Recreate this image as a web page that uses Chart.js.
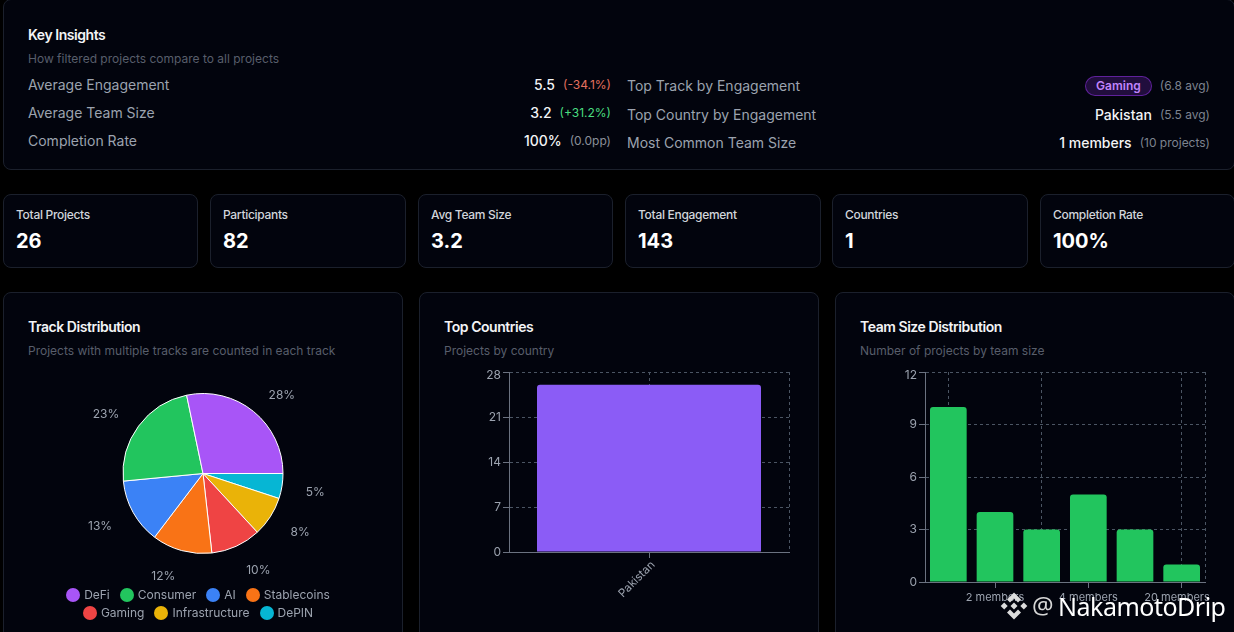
<!DOCTYPE html>
<html><head><meta charset="utf-8">
<script src="https://cdn.jsdelivr.net/npm/chart.js@4"></script>
<style>
html,body{margin:0;padding:0;background:#000;width:1234px;height:632px;overflow:hidden;font-family:Inter,sans-serif;}
.card{position:absolute;box-sizing:border-box;background:#02040d;border:1px solid #1b202c;border-radius:8px;}
.t{position:absolute;white-space:nowrap;line-height:20px;height:20px;}
canvas{position:absolute;display:block;}
.title{font-size:14px;font-weight:600;color:#f3f4f6;letter-spacing:-.45px;}
.sub{font-size:12px;color:#585e6b;}
.row{font-size:14px;color:#9ca3af;}
.val{display:flex;align-items:center;justify-content:flex-end;gap:8px;}
.val b{font-weight:500;font-size:14px;color:#f3f4f6;}
.val i{font-style:normal;font-size:12px;color:#7d838f;}
.pill{font-size:12px;font-weight:600;color:#c084fc;background:rgba(147,51,234,.22);border:1px solid rgba(147,51,234,.55);border-radius:10px;box-sizing:border-box;height:20px;line-height:18px;padding:0 10px;}
.sl{font-size:12px;font-weight:500;color:#d1d5db;letter-spacing:-.3px;}
.sv{font-size:20px;font-weight:700;color:#fff;line-height:24px;height:24px;}
#legend{position:absolute;left:-2px;width:400px;top:586px;font-size:12px;color:#9ca3af;text-align:center;line-height:18px;}
#legend span.it{display:inline-block;margin:0 5px;}
#legend span.dot{display:inline-block;width:14px;height:14px;border-radius:50%;margin-right:4px;vertical-align:-3px;}
#wm{position:absolute;left:1058px;top:588px;font-family:"Noto Sans",sans-serif;font-size:25px;letter-spacing:-.5px;color:#fff;line-height:36px;white-space:nowrap;z-index:5;}
#wmat{position:absolute;left:1032px;top:590px;font-family:"Noto Sans",sans-serif;font-size:24px;color:#d6d6d6;line-height:30px;z-index:5;}
#wmi{position:absolute;left:1000px;top:592px;z-index:5;}
</style></head><body>
<div id="root"></div>
<canvas id="pie" width="400" height="227" style="left:3px;top:360px"></canvas>
<canvas id="countries" width="398" height="272" style="left:420px;top:360px"></canvas>
<canvas id="team" width="398" height="272" style="left:836px;top:360px"></canvas>
<div id="legend"></div>
<svg id="wmi" width="28" height="28" viewBox="0 0 28 28" fill="#dcdcdc"><path d="M14 0.5l7 7-3 3L14 6.5l-4 4-3-3z"/><path d="M14 27.5l-7-7 3-3 4 4 4-4 3 3z"/><path d="M4.2 10.5l3.5 3.5-3.5 3.5L0.7 14z"/><path d="M23.8 10.5l3.5 3.5-3.5 3.5-3.5-3.5z"/><path d="M14 10.5l3.5 3.5-3.5 3.5-3.5-3.5z"/></svg>
<div id="wmat">@</div>
<div id="wm">NakamotoDrip</div>
<script>
const trackLabels = ['DeFi','Consumer','AI','Stablecoins','Gaming','Infrastructure','DePIN'];
const trackShares = [28,23,13,12,10,8,5];
const trackColors = ['#a855f7','#22c55e','#3b82f6','#f97316','#ef4444','#eab308','#06b6d4'];
const countryLabels = ['Pakistan'];
const countryProjects = [26];
const countryTicks = [0,7,14,21,28];
const teamLabels = ['1 members','2 members','3 members','4 members','5 members','20 members'];
const teamProjects = [10,4,3,5,3,1];
const teamTicks = [0,3,6,9,12];
const teamShownLabels = ['2 members','4 members','20 members'];
const teamGridLabels = ['1 members','3 members','20 members'];
const insightsLeft = [['Average Engagement','5.5','(-34.1%)','#e5705f'],['Average Team Size','3.2','(+31.2%)','#4ade80'],['Completion Rate','100%','(0.0pp)','#8b909a']];
const insightsRight = [['Top Track by Engagement','Gaming','(6.8 avg)'],['Top Country by Engagement','Pakistan','(5.5 avg)'],['Most Common Team Size','1 members','(10 projects)']];
const stats = [['Total Projects','26'],['Participants','82'],['Avg Team Size','3.2'],['Total Engagement','143'],['Countries','1'],['Completion Rate','100%']];

const root = document.getElementById('root');
function el(cls, css, html){const d=document.createElement('div');d.className=cls;d.style.cssText=css;if(html!==undefined)d.innerHTML=html;root.appendChild(d);return d;}
el('card','left:3px;top:-1px;width:1232px;height:171px');
el('t title','left:28px;top:25px','Key Insights');
el('t sub','left:28px;top:49px','How filtered projects compare to all projects');
const ly=[75,103,131], ry=[76,105,133];
insightsLeft.forEach((r,i)=>{
  el('t row',`left:28px;top:${ly[i]}px`,r[0]);
  el('t val',`right:623px;top:${ly[i]}px`,`<b>${r[1]}</b><i style="color:${r[3]}">${r[2]}</i>`);
});
insightsRight.forEach((r,i)=>{
  el('t row',`left:627px;top:${ry[i]}px`,r[0]);
  const v = i===0?`<span class="pill">${r[1]}</span>`:`<b>${r[1]}</b>`;
  el('t val',`right:24px;top:${ry[i]}px`,`${v}<i>${r[2]}</i>`);
});
const sx=[3,210,418,625,832,1040], sw=[195,196,195,196,196,195];
stats.forEach((s,i)=>{
  el('card',`left:${sx[i]}px;top:194px;width:${sw[i]}px;height:74px`);
  el('t sl',`left:${sx[i]+13}px;top:205px`,s[0]);
  el('t sv',`left:${sx[i]+13}px;top:229px`,s[1]);
});
[[3,'Track Distribution','Projects with multiple tracks are counted in each track'],[419,'Top Countries','Projects by country'],[835,'Team Size Distribution','Number of projects by team size']].forEach(c=>{
  el('card',`left:${c[0]}px;top:292px;width:400px;height:360px`);
  el('t title',`left:${c[0]+25}px;top:317px`,c[1]);
  el('t sub',`left:${c[0]+25}px;top:341px`,c[2]);
});

const lg=document.getElementById('legend');
[[0,4],[4,7]].forEach(([a,b])=>{
  const line=document.createElement('div');
  for(let i=a;i<b;i++){line.innerHTML+=`<span class="it"><span class="dot" style="background:${trackColors[i]}"></span>${trackLabels[i]}</span>`;}
  lg.appendChild(line);
});

const FONT={family:'Inter',size:12};
const TICK='#9ca3af', GRID='#4b5563', AXIS='#6b7280';

const pctLabels={id:'pctLabels',afterDatasetsDraw(c){
  const ctx=c.ctx, meta=c.getDatasetMeta(0), R=104;
  ctx.save();ctx.font='12px Inter';ctx.fillStyle=TICK;ctx.textBaseline='middle';
  meta.data.forEach((arc,i)=>{
    const p=arc.getProps(['x','y','startAngle','endAngle']);
    const m=(p.startAngle+p.endAngle)/2, x=p.x+R*Math.cos(m), y=p.y+R*Math.sin(m)+2.5;
    ctx.textAlign = x>p.x?'left':'right';
    ctx.fillText(c.data.datasets[0].data[i]+'%',x,y);
  });
  ctx.restore();
}};
const rightEdge={id:'rightEdge',beforeDatasetsDraw(c){
  const {ctx,chartArea:a}=c;ctx.save();ctx.strokeStyle=GRID;ctx.setLineDash([3,3]);ctx.lineWidth=1;
  ctx.beginPath();ctx.moveTo(a.right+.5,a.top);ctx.lineTo(a.right+.5,a.bottom);ctx.stroke();
  ctx.restore();
}};

new Chart(document.getElementById('pie'),{
  type:'pie',
  data:{labels:[...trackLabels].reverse(),datasets:[{data:[...trackShares].reverse(),backgroundColor:[...trackColors].reverse(),borderColor:'#ffffff',borderWidth:1}]},
  options:{responsive:false,animation:false,rotation:90,radius:80,layout:{padding:0},plugins:{legend:{display:false},tooltip:{enabled:false}}},
  plugins:[pctLabels]
});

function axisY(ticks,width){const top=ticks[ticks.length-1];return {
  min:0,max:top,
  afterFit(s){s.width=width;},
  afterBuildTicks(s){s.ticks=ticks.map(v=>({value:v}));},
  ticks:{color:TICK,padding:2,autoSkip:false,
    font:c=>c.tick&&c.tick.value===top?{family:'Inter',size:12,lineHeight:'6px'}:FONT,
    callback:v=>v===top?['',String(v)]:String(v)},
  grid:{color:GRID,tickColor:AXIS,tickLength:6,lineWidth:1},
  border:{display:true,color:AXIS,dash:[3,3]}
};}

new Chart(document.getElementById('countries'),{
  type:'bar',
  data:{labels:countryLabels,datasets:[{data:countryProjects,backgroundColor:'#8b5cf6',categoryPercentage:.8,barPercentage:1,borderRadius:{topLeft:3,topRight:3,bottomLeft:0,bottomRight:0},borderSkipped:false}]},
  options:{responsive:false,animation:false,
    layout:{padding:{top:12,right:29,left:0,bottom:0}},
    plugins:{legend:{display:false},tooltip:{enabled:false}},
    scales:{
      x:{afterFit(s){s.height=80;},ticks:{color:TICK,font:{family:'Inter',size:11.5},minRotation:45,maxRotation:45,padding:0,labelOffset:4},
         grid:{offset:false,color:GRID,tickColor:AXIS,tickLength:6},border:{display:true,color:AXIS,dash:[3,3]}},
      y:axisY(countryTicks,89)
    }},
  plugins:[rightEdge]
});

new Chart(document.getElementById('team'),{
  type:'bar',
  data:{labels:teamLabels,datasets:[{data:teamProjects,backgroundColor:'#22c55e',categoryPercentage:.786,barPercentage:1,borderRadius:{topLeft:3,topRight:3,bottomLeft:0,bottomRight:0},borderSkipped:false}]},
  options:{responsive:false,animation:false,
    layout:{padding:{top:12,right:29,left:0,bottom:0}},
    plugins:{legend:{display:false},tooltip:{enabled:false}},
    scales:{
      x:{afterFit(s){s.height=50;},
         ticks:{color:TICK,font:{family:'Inter',size:11},minRotation:0,maxRotation:0,autoSkip:false,padding:3,
           callback(v,i){const l=teamLabels[i];if(!teamShownLabels.includes(l))return '';return i===teamLabels.length-1?l+'   ':l;}},
         grid:{offset:false,tickLength:6,
           color:c=>teamGridLabels.includes(teamLabels[c.index])?GRID:'transparent',
           tickColor:c=>teamShownLabels.includes(teamLabels[c.index])?AXIS:'transparent'},
         border:{display:true,color:AXIS,dash:[3,3]}},
      y:axisY(teamTicks,89)
    }},
  plugins:[rightEdge]
});
</script>
</body></html>
